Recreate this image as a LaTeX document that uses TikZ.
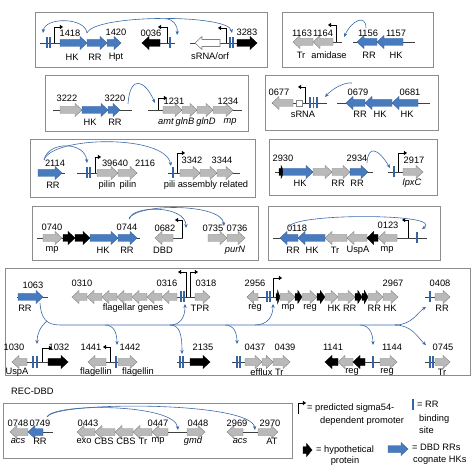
\documentclass[tikz,border=0pt]{standalone}
\usepackage{fontspec}
\setmainfont{Liberation Sans}
\usetikzlibrary{arrows.meta}

\definecolor{dbdblue}{RGB}{72,123,190}
\definecolor{dbdedge}{RGB}{50,95,160}
\definecolor{linkblue}{RGB}{60,105,170}
\definecolor{sitecol}{RGB}{55,100,165}
\definecolor{genegray}{RGB}{185,185,185}
\definecolor{geneedge}{RGB}{130,130,130}
\definecolor{boxgray}{RGB}{140,140,140}

\tikzset{
  gg/.style={fill=genegray,draw=geneedge,line width=0.4pt},
  bg/.style={fill=dbdblue,draw=dbdedge,line width=0.4pt},
  kg/.style={fill=black,draw=black,line width=0.4pt},
  wg/.style={fill=white,draw=geneedge,line width=0.6pt},
  panel/.style={draw=boxgray,line width=0.8pt},
  dna/.style={draw=black!75,line width=0.6pt},
  bsite/.style={draw=sitecol,line width=1.1pt},
  prom/.style={draw=black,line width=0.7pt,-{Triangle[length=3.2pt,width=4.2pt]}},
  link/.style={draw=linkblue,line width=0.6pt},
  reg/.style={link,-{Stealth[length=4pt,width=3.4pt]}},
  lbl/.style={font=\fontsize{9.3}{10}\selectfont,inner sep=0pt},
  ilbl/.style={font=\fontsize{9.3}{10}\selectfont\itshape,inner sep=0pt}
}

% gene arrow from #2 to #3 on row #4
\newcommand{\gene}[4][gg]{%
  \pgfmathsetmacro{\ghead}{#3-sign(#3-#2)*min(7,0.6*abs(#3-#2))}%
  \draw[#1] (#2,#4-3.5) -- (\ghead,#4-3.5) -- (\ghead,#4-6.5) -- (#3,#4)
    -- (\ghead,#4+6.5) -- (\ghead,#4+3.5) -- (#2,#4+3.5) -- cycle;}
% RR binding site
\newcommand{\site}[2]{\draw[bsite] (#1,#2-5.5) -- (#1,#2+5.5);}

\begin{document}
\begin{tikzpicture}[x=1pt,y=-1pt]
  \useasboundingbox (0,0) rectangle (474,470);

  %% panel 1418
  \draw[panel] (35,12) rectangle (267,67);
  \draw[dna] (40,43) -- (60,43);
  \gene[bg]{60}{87}{43} \gene[bg]{87}{107}{43} \gene[bg]{107}{121}{43}
  \site{47}{43} \site{50}{43}
  \draw[prom] (54,43) |- (63,27);
  \node[lbl] (n1418) at (70,33) {1418};
  \node[lbl] (n1420) at (116,32) {1420};
  \node[lbl] (hk1418) at (72,57) {HK};
  \node[lbl] (rr1419) at (95,57) {RR};
  \node[lbl] (hpt1420) at (116,57) {Hpt};
  \draw[dna] (142,43) -- (175,43);
  \gene[kg]{160}{142}{43}
  \site{170}{43}
  \draw[prom] (167,43) |- (158,27);
  \node[lbl] (n0036) at (151,33) {0036};
  \draw[dna] (190,43) -- (257,43);
  \gene[wg]{220}{195}{43}
  \draw[prom] (226,43) |- (218,28);
  \site{230}{43} \site{233}{43}
  \gene[kg]{237}{257}{43}
  \node[lbl] (orf) at (210,56) {sRNA/orf};
  \node[lbl] (n3283) at (247,32) {3283};
  \coordinate (rr1418) at (87,33);
  \coordinate (bs1418) at (43,33);
  \coordinate (bs0036) at (177,35);
  \coordinate (bs3283) at (232,33);
  \draw[reg] (rr1418) .. controls +(-2,-16) and +(2,-16) .. (bs1418);
  \draw[reg] (rr1418) .. controls +(8,-19) and +(-4,-19) .. (bs3283);
  \draw[reg] (165,18.8) .. controls (173,18.8) and (178,25) .. (bs0036);

  %% panel 1156
  \draw[panel] (282,12) rectangle (433,67);
  \draw[dna] (333,42) -- (342,42);
  \gene[gg]{333}{313}{42} \gene[gg]{313}{293}{42}
  \draw[prom] (336,42) |- (328,25);
  \node[lbl] (n1163) at (302,33) {1163};
  \node[lbl] (n1164) at (323,33) {1164};
  \node[lbl] (tr1163) at (301,55) {Tr};
  \node[lbl] (ami1164) at (329,55) {amidase};
  \draw[dna] (353,42) -- (415,42);
  \gene[bg]{403}{377}{42} \gene[bg]{377}{357}{42}
  \node[lbl] (n1156) at (368,33) {1156};
  \node[lbl] (n1157) at (396,33) {1157};
  \node[lbl] (rr1156) at (369,55) {RR};
  \node[lbl] (hk1157) at (396,55) {HK};
  \coordinate (src1156) at (366,28);
  \coordinate (bs1164) at (344,37);
  \draw[reg] (src1156) .. controls +(0,-14) and +(8,-17) .. (bs1164);

  %% panel 3220
  \draw[panel] (45,75) rectangle (248,131);
  \draw[dna] (53,110) -- (132,110);
  \gene[gg]{60}{82}{110} \gene[bg]{82}{108}{110} \gene[bg]{108}{120}{110}
  \node[lbl] (n3222) at (67,98) {3222};
  \node[lbl] (n3220) at (115,98) {3220};
  \node[lbl] (hk3221) at (90,122) {HK};
  \node[lbl] (rr3220) at (115,122) {RR};
  \draw[dna] (148,110) -- (242,110);
  \draw[prom] (158,110) |- (167,98);
  \gene[gg]{163}{182}{110} \gene[gg]{182}{197}{110} \gene[gg]{197}{213}{110} \gene[gg]{213}{233}{110}
  \node[lbl] (n1231) at (174,101) {1231};
  \node[lbl] (n1234) at (228,101) {1234};
  \node[ilbl] (amt) at (166,122) {amt};
  \node[ilbl] (glnB) at (185,122) {glnB};
  \node[ilbl] (glnD) at (206,122) {glnD};
  \node[ilbl] (mp1234) at (230,122) {mp};
  \coordinate (src3220) at (128,104);
  \coordinate (bs1231) at (155,103);
  \draw[reg] (src3220) .. controls +(2,-30) and +(-10,-23) .. (bs1231);

  %% panel 0679
  \draw[panel] (265,75) rectangle (438,130);
  \draw[dna] (272,103) -- (327,103);
  \gene[gg]{293}{272}{103}
  \draw[wg] (296,100) rectangle (302,106);
  \draw[prom] (305,103) |- (298,87);
  \site{310}{103} \site{313.5}{103} \site{317}{103}
  \node[lbl] (n0677) at (279,92) {0677};
  \node[lbl] (srna) at (303,114) {sRNA};
  \draw[dna] (337,103) -- (430,103);
  \gene[bg]{418}{392}{103} \gene[bg]{392}{365}{103} \gene[bg]{365}{346}{103}
  \node[lbl] (n0679) at (358,92) {0679};
  \node[lbl] (n0681) at (410,92) {0681};
  \node[lbl] (rr0679) at (360,114) {RR};
  \node[lbl] (hk0680) at (380,114) {HK};
  \node[lbl] (hk0681) at (407,114) {HK};
  \coordinate (src0679) at (352,83);
  \coordinate (bs0677) at (325,97);
  \draw[reg] (src0679) .. controls +(-7,-1) and +(8,-9) .. (bs0677);

  %% panel 2114
  \draw[panel] (30,139) rectangle (255,197);
  \draw[dna] (38,173) -- (65,173);
  \gene[bg]{38}{62}{173}
  \node[lbl] (n2114) at (55,163) {2114};
  \node[lbl] (rr2114) at (53,185) {RR};
  \draw[dna] (77,173) -- (137,173);
  \site{87}{173} \site{90}{173}
  \draw[prom] (95,173) |- (101,157);
  \gene[gg]{97}{118}{173} \gene[gg]{118}{137}{173}
  \node[lbl] (n39640) at (115,163) {39640};
  \node[lbl] (n2116) at (145,163) {2116};
  \node[lbl] (pil1) at (107,185) {pilin};
  \node[lbl] (pil2) at (128,185) {pilin};
  \draw[dna] (168,173) -- (240,173);
  \site{173}{173}
  \draw[prom] (177,173) |- (185,153);
  \gene[gg]{180}{200}{173} \gene[gg]{200}{217}{173} \gene[gg]{217}{233}{173}
  \node[lbl] (n3342) at (192,160) {3342};
  \node[lbl] (n3344) at (222,160) {3344};
  \node[lbl] (pili) at (206,185) {pili assembly related};
  \coordinate (src2114) at (44,160);
  \coordinate (bs39640) at (87,163);
  \coordinate (bs3342) at (171,166);
  \draw[reg] (src2114) .. controls +(4,-19) and +(-2,-22) .. (bs39640);
  \draw[reg] (src2114) .. controls +(8,-24) and +(-6,-32) .. (bs3342);

  %% panel 2934
  \draw[panel] (269,139) rectangle (437,195);
  \draw[dna] (275,172) -- (373,172);
  \gene[kg]{279}{284}{172}
  \gene[bg]{283}{313}{172} \gene[gg]{313}{332}{172} \gene[gg]{332}{350}{172} \gene[bg]{350}{368}{172}
  \node[lbl] (n2930) at (283,158) {2930};
  \node[lbl] (n2934) at (357,158) {2934};
  \node[lbl] (hk2930) at (300,183) {HK};
  \node[lbl] (rr2933) at (338,183) {RR};
  \node[lbl] (rr2934) at (357,183) {RR};
  \draw[dna] (388,172) -- (403,172);
  \site{394}{172}
  \draw[prom] (398,172) |- (407,153);
  \gene[gg]{403}{423}{172}
  \node[lbl] (n2917) at (414,160) {2917};
  \node[ilbl] (lpxC) at (412,183) {lpxC};
  \coordinate (src2934) at (367,163);
  \coordinate (bs2917) at (390,168);
  \draw[reg] (src2934) .. controls +(1,-18) and +(-12,-20) .. (bs2917);

  %% panel 0744
  \draw[panel] (32,206) rectangle (258,260);
  \draw[dna] (37,238) -- (140,238);
  \gene[gg]{43}{62}{238} \gene[kg]{63}{75}{238} \gene[kg]{75}{90}{238} \gene[bg]{90}{118}{238} \gene[bg]{118}{137}{238}
  \node[lbl] (n0740) at (52,227) {0740};
  \node[lbl] (n0744) at (127,227) {0744};
  \node[lbl] (mp0740) at (52,250) {mp};
  \node[lbl] (hk0743) at (103,250) {HK};
  \node[lbl] (rr0744) at (127,250) {RR};
  \draw[dna] (173,238) -- (183,238);
  \gene[gg]{173}{155}{238}
  \draw[prom] (182,238) |- (175,220);
  \node[lbl] (n0682) at (165,228) {0682};
  \node[lbl] (dbd0682) at (163,250) {DBD};
  \gene[gg]{208}{227}{238} \gene[gg]{227}{245}{238}
  \node[lbl] (n0735) at (213,228) {0735};
  \node[lbl] (n0736) at (237,228) {0736};
  \node[ilbl] (purN) at (235,250) {purN};
  \coordinate (src0744) at (129,219);
  \coordinate (bs0682) at (186,228);
  \coordinate (bs0735) at (224,226);
  \draw[reg] (src0744) .. controls +(3,-14) and +(0,-23) .. (bs0682);
  \draw[reg] (src0744) .. controls +(6,-16) and +(-2,-23) .. (bs0735);

  %% panel 0118
  \draw[panel] (268,206) rectangle (440,260);
  \draw[dna] (273,238) -- (427,238);
  \gene[bg]{298}{280}{238} \gene[bg]{325}{298}{238} \gene[gg]{347}{325}{238}
  \gene[gg]{367}{347}{238} \gene[kg]{378}{367}{238} \gene[gg]{397}{378}{238}
  \node[lbl] (n0118) at (297,228) {0118};
  \node[lbl] (n0123) at (388,225) {0123};
  \node[lbl] (rr0118) at (293,250) {RR};
  \node[lbl] (hk0119) at (312,250) {HK};
  \node[lbl] (tr0120) at (335,250) {Tr};
  \node[lbl] (usp0121) at (358,250) {UspA};
  \node[lbl] (mp0123) at (387,250) {mp};
  \draw[prom] (408,238) |- (402,220);
  \site{417}{238}
  \coordinate (src0118) at (289,227);
  \coordinate (bs0123) at (422,229);
  \draw[reg] (src0118) .. controls +(3,-14) and +(23,-16) .. (bs0123);

  %% panel 1063
  \draw[panel] (5,268) rectangle (470,375);
  \draw[dna] (17,297) -- (48,297);
  \gene[bg]{18}{43}{297}
  \node[lbl] (n1063) at (33,285) {1063};
  \node[lbl] (rr1063) at (25,308) {RR};
  \draw[dna] (177,297) -- (197,297);
  \gene[gg]{177}{162}{297} \gene[gg]{162}{147}{297} \gene[gg]{147}{132}{297} \gene[gg]{132}{117}{297}
  \gene[gg]{117}{102}{297} \gene[gg]{102}{87}{297} \gene[gg]{87}{72}{297}
  \node[lbl] (n0310) at (82,283) {0310};
  \node[lbl] (n0316) at (167,283) {0316};
  \node[lbl] (flag) at (133,308) {flagellar genes};
  \site{181}{297} \site{184}{297}
  \draw[prom] (186,297) |- (178,272);
  \draw[prom] (190,297) |- (198,272);
  \gene[gg]{195}{210}{297}
  \node[lbl] (n0318) at (206,283) {0318};
  \node[lbl] (tpr) at (200,308) {TPR};
  \gene[gg]{258}{247}{297}
  \draw[dna] (258,297) -- (276,297);
  \site{267}{297} \site{270}{297}
  \draw[prom] (273,297) |- (282,278);
  \gene[kg]{276}{280}{297} \gene[gg]{280}{295}{297} \gene[kg]{295}{302}{297} \gene[gg]{302}{317}{297}
  \gene[kg]{317}{325}{297} \gene[gg]{325}{338}{297} \gene[gg]{338}{355}{297} \gene[kg]{355}{362}{297}
  \gene[kg]{362}{368}{297} \gene[gg]{368}{383}{297} \gene[gg]{383}{398}{297}
  \node[lbl] (n2956) at (255,283) {2956};
  \node[lbl] (n2967) at (393,283) {2967};
  \node[lbl] (reg2956) at (255,308) {reg};
  \node[lbl] (mp2957) at (288,308) {mp};
  \node[lbl] (reg2959) at (310,308) {reg};
  \node[lbl] (hkrr1) at (342,308) {HK RR};
  \node[lbl] (rrhk2) at (382,308) {RR HK};
  \draw[dna] (425,297) -- (435,297);
  \site{430}{297}
  \gene[gg]{435}{450}{297}
  \node[lbl] (n0408) at (440,283) {0408};
  \node[lbl] (rr0408) at (442,308) {RR};
  % lower row
  \gene[gg]{27}{12}{362}
  \draw[dna] (27,362) -- (48,362);
  \site{33}{362} \site{37}{362}
  \draw[prom] (42,362) |- (52,348);
  \gene[kg]{48}{68}{362}
  \node[lbl] (n1030) at (14,347) {1030};
  \node[lbl] (n1032) at (59,347) {1032};
  \node[lbl] (usp1030) at (17,372) {UspA};
  \gene[gg]{106}{88}{362}
  \draw[dna] (106,362) -- (118,362);
  \draw[prom] (110,362) |- (103,347);
  \site{116}{362}
  \gene[gg]{118}{137}{362}
  \node[lbl] (n1441) at (91,347) {1441};
  \node[lbl] (n1442) at (130,347) {1442};
  \node[lbl] (fla1) at (96,372) {flagellin};
  \node[lbl] (fla2) at (138,372) {flagellin};
  \draw[dna] (177,362) -- (190,362);
  \site{180}{362} \site{183}{362}
  \gene[kg]{190}{210}{362}
  \node[lbl] (n2135) at (203,347) {2135};
  \draw[dna] (232,362) -- (245,362);
  \site{237}{362} \site{240}{362}
  \gene[gg]{245}{262}{362} \gene[gg]{262}{273}{362} \gene[gg]{273}{290}{362}
  \node[lbl] (n0437) at (255,347) {0437};
  \node[lbl] (n0439) at (285,347) {0439};
  \node[lbl] (efflux) at (267,372) {efflux Tr};
  \gene[kg]{338}{325}{362} \gene[gg]{353}{338}{362} \gene[kg]{365}{353}{362}
  \draw[dna] (365,362) -- (380,362);
  \site{373}{362}
  \gene[gg]{380}{397}{362}
  \node[lbl] (n1141) at (333,347) {1141};
  \node[lbl] (n1144) at (392,347) {1144};
  \node[lbl] (reg1142) at (352,372) {reg};
  \node[lbl] (reg1144) at (387,372) {reg};
  \draw[dna] (425,362) -- (437,362);
  \site{430}{362} \site{433}{362}
  \gene[gg]{435}{450}{362}
  \node[lbl] (n0745) at (443,347) {0745};
  \node[lbl] (tr0745) at (442,372) {Tr};
  % regulation by 1063
  \coordinate (src1063) at (40,303);
  \coordinate (bs1030) at (37,344);
  \coordinate (bs1442) at (117,345);
  \coordinate (bs0316) at (185,304);
  \coordinate (bs2135) at (182,354);
  \coordinate (bs0437) at (237,344);
  \coordinate (bs2956) at (273,304);
  \coordinate (bs1144) at (373,345);
  \coordinate (bs0408) at (426,307);
  \coordinate (bs0745) at (426,345);
  \draw[link] (src1063) .. controls (41,318) and (46,325) .. (60,325) -- (398,325);
  \draw[reg] (47,321) .. controls (40,327) and (37,334) .. (bs1030);
  \draw[reg] (105,325) .. controls (114,325) and (117,333) .. (bs1442);
  \draw[reg] (170,325) .. controls (180,325) and (185,318) .. (bs0316);
  \draw[reg] (170,325) .. controls (180,325) and (182,335) .. (bs2135);
  \draw[reg] (225,325) .. controls (234,325) and (237,333) .. (bs0437);
  \draw[reg] (255,325) .. controls (268,325) and (273,316) .. (bs2956);
  \draw[reg] (360,325) .. controls (370,325) and (373,335) .. (bs1144);
  \draw[reg] (395,325) .. controls (412,325) and (418,312) .. (bs0408);
  \draw[reg] (395,325) .. controls (412,325) and (418,338) .. (bs0745);

  %% REC-DBD
  \node[lbl,anchor=west] (recdbd) at (11,391) {REC-DBD};
  \draw[panel] (3,403) rectangle (292,458);
  \gene[gg]{28}{10}{432}
  \draw[dna] (43,432) -- (53,432);
  \gene[bg]{43}{28}{432}
  \node[lbl] (n0748) at (18,423) {0748};
  \node[lbl] (n0749) at (40,423) {0749};
  \node[ilbl] (acs0748) at (18,441) {acs};
  \node[lbl] (rr0749) at (40,441) {RR};
  \gene[gg]{95}{77}{432} \gene[gg]{115}{95}{432} \gene[gg]{133}{115}{432} \gene[gg]{152}{133}{432} \gene[gg]{168}{152}{432}
  \draw[dna] (168,432) -- (187,432);
  \gene[gg]{187}{205}{432}
  \node[lbl] (n0443) at (88,423) {0443};
  \node[lbl] (n0447) at (158,423) {0447};
  \node[lbl] (n0448) at (198,423) {0448};
  \node[lbl] (exo) at (84,441) {exo};
  \node[lbl] (cbs1) at (104,441) {CBS};
  \node[lbl] (cbs2) at (126,441) {CBS};
  \node[lbl] (tr0446) at (143,441) {Tr};
  \node[lbl] (mp0447) at (158,441) {mp};
  \node[ilbl] (gmd) at (193,441) {gmd};
  \gene[gg]{243}{227}{432}
  \draw[dna] (243,432) -- (258,432);
  \gene[gg]{258}{278}{432}
  \node[lbl] (n2969) at (237,423) {2969};
  \node[lbl] (n2970) at (270,423) {2970};
  \node[ilbl] (acs2969) at (240,441) {acs};
  \node[lbl] (at2970) at (272,441) {AT};
  \coordinate (src0749) at (47,417);
  \coordinate (bs0447) at (178,430);
  \coordinate (bs2969) at (255,430);
  \draw[reg] (src0749) .. controls (52,403) and (175,403) .. (bs0447);
  \draw[reg] (src0749) .. controls (55,401) and (252,401) .. (bs2969);

  %% legend
  \draw[prom] (298,414) |- (306,403);
  \node[lbl,anchor=west] (lgp1) at (307,408) {= predicted sigma54-};
  \node[lbl] (lgp2) at (362,421) {dependent promoter};
  \draw[bsite] (413,399) -- (413,410);
  \node[lbl,anchor=west] (lgs1) at (417,404) {= RR};
  \node[lbl,anchor=west] (lgs2) at (419,419) {binding};
  \node[lbl,anchor=west] (lgs3) at (419,430) {site};
  \gene[kg]{303}{312}{450}
  \node[lbl,anchor=west] (lgh1) at (316,450) {= hypothetical};
  \node[lbl] (lgh2) at (345,461) {protein};
  \gene[bg]{388}{408}{449}
  \node[lbl,anchor=west] (lgd1) at (412,447) {= DBD RRs};
  \node[lbl,anchor=west] (lgd2) at (413,460) {cognate HKs};
\end{tikzpicture}
\end{document}
